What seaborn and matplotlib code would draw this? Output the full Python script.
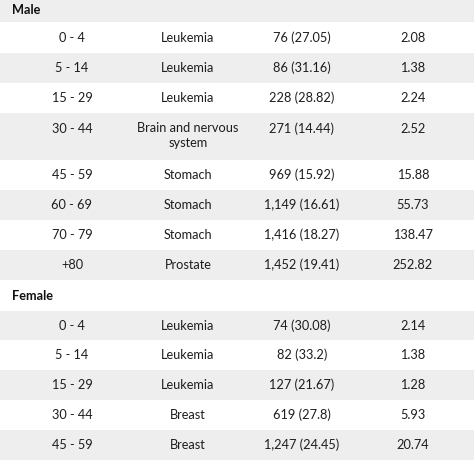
import matplotlib
matplotlib.use("Agg")
import matplotlib.pyplot as plt
import seaborn as sns

# table content (rows top to bottom); None marks a section header
ages = ["Male", "0 - 4", "5 - 14", "15 - 29", "30 - 44", "45 - 59", "60 - 69", "70 - 79", "+80",
        "Female", "0 - 4", "5 - 14", "15 - 29", "30 - 44", "45 - 59", ""]
cancers = [None, "Leukemia", "Leukemia", "Leukemia", "Brain and nervous\nsystem", "Stomach", "Stomach",
           "Stomach", "Prostate", None, "Leukemia", "Leukemia", "Leukemia", "Breast", "Breast", ""]
counts = [None, "76 (27.05)", "86 (31.16)", "228 (28.82)", "271 (14.44)", "969 (15.92)", "1,149 (16.61)",
          "1,416 (18.27)", "1,452 (19.41)", None, "74 (30.08)", "82 (33.2)", "127 (21.67)", "619 (27.8)",
          "1,247 (24.45)", ""]
rates = [None, "2.08", "1.38", "2.24", "2.52", "15.88", "55.73", "138.47", "252.82", None,
         "2.14", "1.38", "1.28", "5.93", "20.74", ""]
row_h = [22, 31, 30, 30, 47, 30, 30, 30, 30, 31, 29, 30, 30, 30, 30, 30]

sns.set_theme(style="white")
plt.rcParams["font.family"] = ["Lato", "DejaVu Sans"]

fig = plt.figure(figsize=(4.74, 4.74), dpi=100)
ax = fig.add_axes([0, 0, 1, 1])
ax.set_xlim(0, 474)
ax.set_ylim(474, 0)
ax.axis("off")

col_x = [72, 188, 302, 413]
fs = 9.2
tc = "#1e1e1e"
y = 0
for i, h in enumerate(row_h):
    if i % 2 == 0:
        ax.barh(y + h / 2, 474, height=h, left=0, color="#eeeeee", edgecolor="none")
    if cancers[i] is None:
        ax.text(12, y + h / 2 + (0 if i else -1), ages[i], ha="left", va="center",
                fontsize=fs, fontweight="bold", color="#111111")
    else:
        ty = y + 16 if h > 40 else y + h / 2
        for x, s in zip(col_x, [ages[i], cancers[i], counts[i], rates[i]]):
            if "\n" in s:
                ax.text(x, ty - 7, s, ha="center", va="top", fontsize=fs, color=tc,
                        linespacing=1.3)
            else:
                ax.text(x, ty, s, ha="center", va="center", fontsize=fs, color=tc)
    y += h

fig.savefig("out.png", dpi=100)
